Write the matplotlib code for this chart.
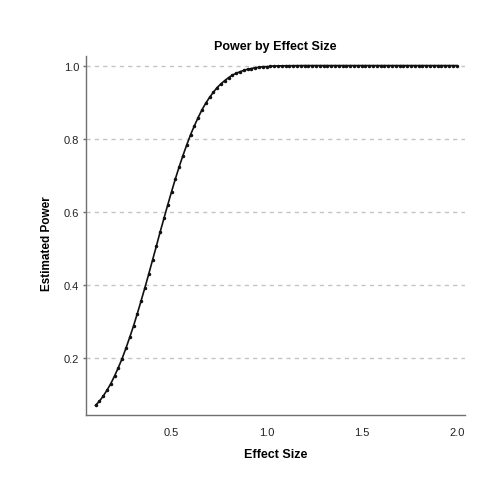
import numpy as np
import matplotlib
matplotlib.use("Agg")
import matplotlib.pyplot as plt

# effect size grid (step 0.02) and estimated power
effect_size = np.round(np.arange(0.10, 2.0001, 0.02), 2)
power_start = [0.071, 0.082, 0.096, 0.112, 0.130, 0.151, 0.174, 0.199, 0.227, 0.257,
               0.288, 0.322, 0.357, 0.393, 0.430, 0.468, 0.506, 0.545, 0.582, 0.619,
               0.655, 0.690, 0.723, 0.754, 0.783, 0.811, 0.835, 0.858, 0.879, 0.897,
               0.913, 0.927, 0.940, 0.950, 0.959, 0.967, 0.974, 0.979, 0.983, 0.987,
               0.990, 0.992, 0.994, 0.995, 0.997, 0.997, 0.998, 0.999, 0.999, 0.9993,
               0.9995, 0.9996, 0.9997, 0.9998, 0.9999]
power = power_start + [1.0] * (len(effect_size) - len(power_start))

yticks = [0.2, 0.4, 0.6, 0.8, 1.0]
xticks = [0.5, 1.0, 1.5, 2.0]

plt.rcParams['font.family'] = ['Liberation Sans', 'DejaVu Sans']

fig = plt.figure(figsize=(5.02, 5.02), dpi=100)
ax = fig.add_axes([86 / 502, 1 - 415.5 / 502, (465 - 86) / 502, (415.5 - 56.7) / 502])

ax.plot(effect_size, power, color='#111111', lw=1.2, marker='o', ms=1.5, zorder=3)

ax.set_xlim(0.05, 2.044)
ax.set_ylim(0.046, 1.027)
ax.set_xticks(xticks)
ax.set_xticklabels(['0.5', '1.0', '1.5', '2.0'])
ax.set_yticks(yticks)
ax.set_yticklabels(['0.2', '0.4', '0.6', '0.8', '1.0'])

ax.yaxis.grid(True, color='#c4c4c4', linestyle=(0, (3, 3)), lw=1.0)
ax.set_axisbelow(True)

for s in ['top', 'right']:
    ax.spines[s].set_visible(False)
for s in ['left', 'bottom']:
    ax.spines[s].set_color('#707070')
    ax.spines[s].set_linewidth(1.0)

ax.tick_params(axis='y', length=2, width=1, color='#707070', pad=3, labelsize=8, labelcolor='#222222')
ax.tick_params(axis='x', length=0, pad=9, labelsize=8, labelcolor='#222222')

ax.set_title('Power by Effect Size', fontsize=9, fontweight='bold', pad=5)
ax.set_xlabel('Effect Size', fontsize=9, fontweight='bold', labelpad=8)
ax.set_ylabel('Estimated Power', fontsize=8.5, fontweight='bold')
ax.yaxis.set_label_coords(-0.088, 0.48)

fig.savefig('out.png', dpi=100)
